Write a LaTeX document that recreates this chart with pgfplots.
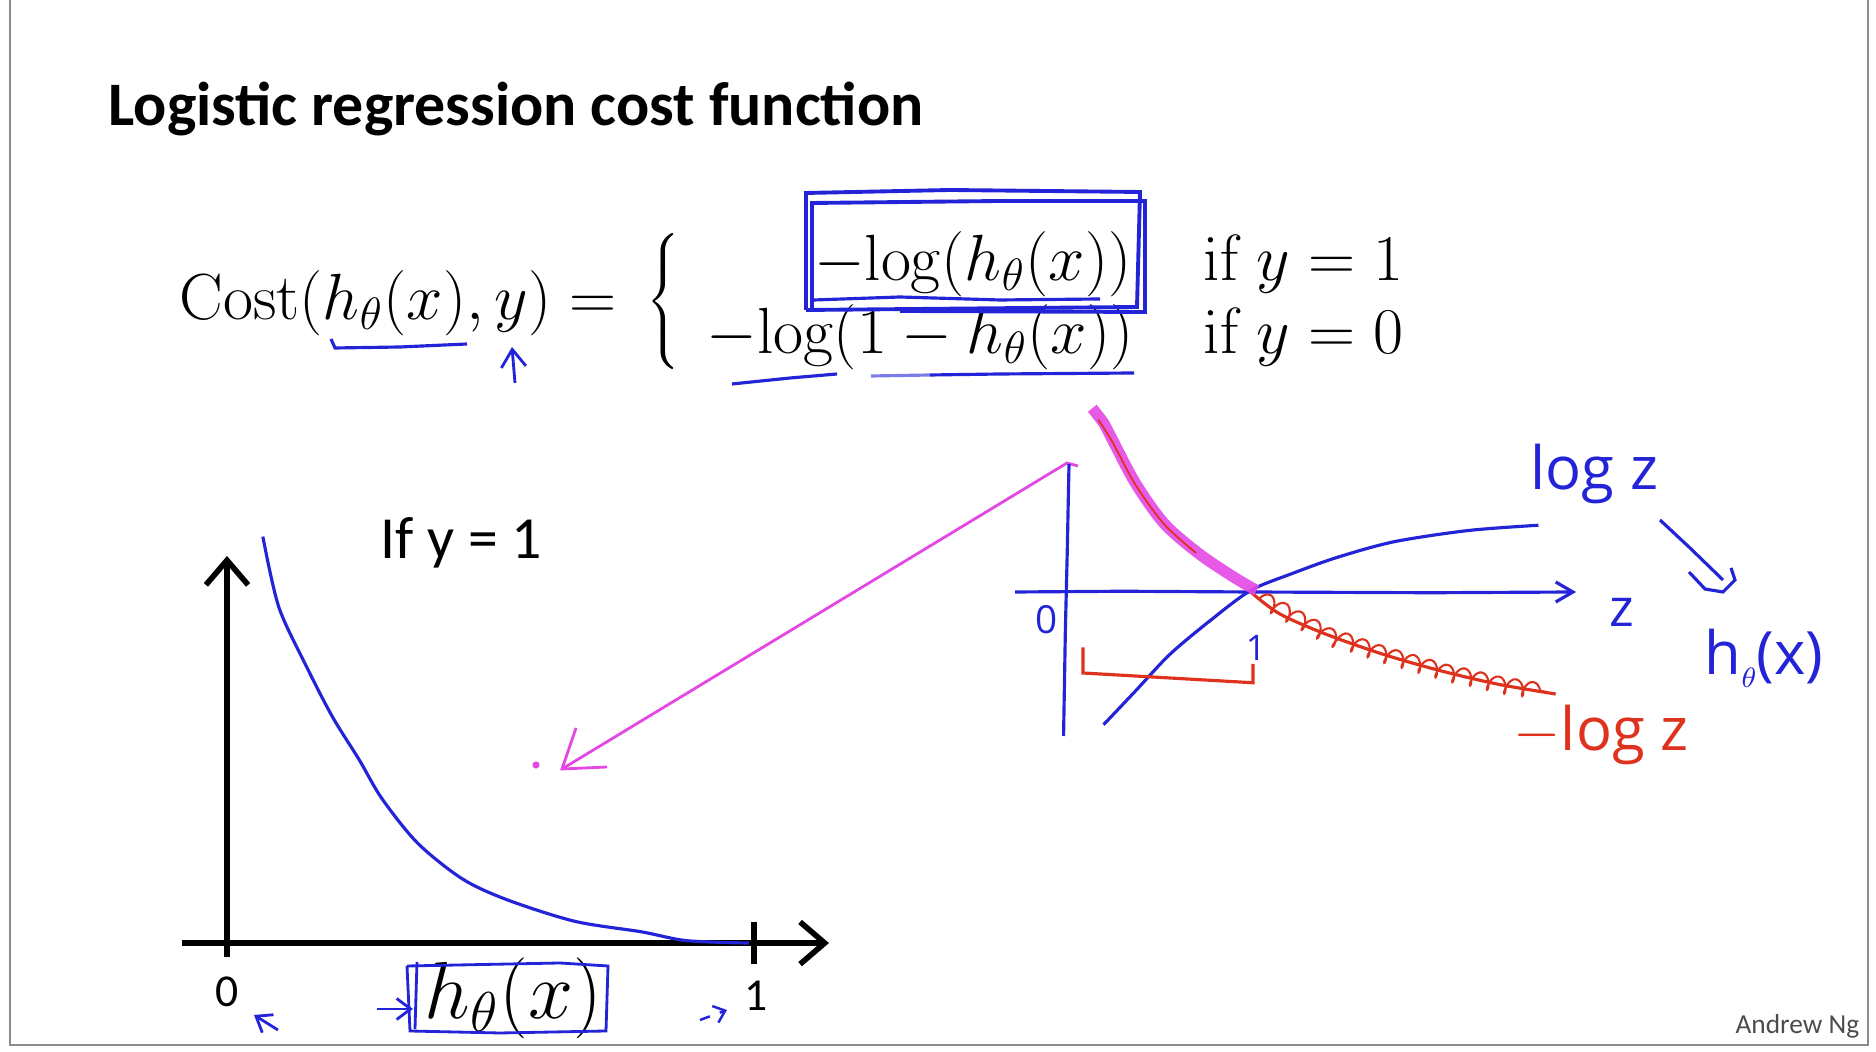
\documentclass[border=0pt]{standalone}
\usepackage[no-math]{fontspec}
\setmainfont{Carlito}
\newfontfamily\hand{Open Sans}
\usepackage{pgfplots}
\pgfplotsset{compat=1.18}
\usetikzlibrary{arrows.meta,decorations.pathmorphing}
\definecolor{hblue}{RGB}{35,35,215}
\definecolor{hred}{RGB}{222,50,30}
\definecolor{hpink}{RGB}{228,72,228}
\definecolor{bordergray}{RGB}{140,140,140}
\begin{document}
\begin{tikzpicture}[every node/.style={inner sep=0pt},fml/.style={font=\fontsize{17.28}{21}\selectfont,scale=1.075}]
\path[use as bounding box] (0,0) rectangle (18.76cm,10.52cm);
% ---------------- canvas (pixel coordinates, y downwards) ----------------
\begin{axis}[at={(0,0)},anchor=south west,scale only axis,width=18.76cm,height=10.52cm,
  xmin=0,xmax=1876,ymin=0,ymax=1052,y dir=reverse,hide axis,clip=false]
% slide border
\addplot[bordergray,line width=0.8pt] coordinates {(10,0)(10,1045)(1868,1045)(1868,0)};
% title
\node[anchor=base west,font=\bfseries\fontsize{17.6}{20}\selectfont] at (axis cs:108,126) {Logistic regression cost function};
% formula
\node[anchor=base west,fml] at (axis cs:179,320) {$\mathrm{Cost}(h_\theta(x),y) =$};
\node[fml] at (axis cs:666,304) {$\left\{\rule[-15pt]{0pt}{30pt}\right.$};
\node[anchor=base east,fml] at (axis cs:1132,281) {$-\mathrm{log}(h_\theta(x))$};
\node[anchor=base east,fml] at (axis cs:1134,354) {$-\mathrm{log}(1-h_\theta(x))$};
\node[anchor=base west,fml] at (axis cs:1203,281) {$\mathrm{if}\ y=1$};
\node[anchor=base west,fml] at (axis cs:1203,354) {$\mathrm{if}\ y=0$};
% blue pen on the formula
\addplot[hblue,line width=1.1pt] coordinates {(806,310)(806,193)(950,190)(1140,192)(1137,307)(806,310)};
\addplot[hblue,line width=1.1pt] coordinates {(812,312)(812,203)(1000,201)(1145,201)(1145,312)(900,311)};
\addplot[hblue,line width=0.9pt] coordinates {(814,300)(900,297)(1000,300)(1100,299)};
\addplot[hblue,line width=0.9pt] coordinates {(331,339)(335,348)(400,347)(467,344)};
\addplot[hblue,line width=0.8pt,-{Straight Barb[length=5pt,width=7pt]}] coordinates {(515,383)(512,347)};
\addplot[hblue,line width=0.9pt] coordinates {(732,384)(790,378)(837,374)};
\addplot[hblue!60,line width=0.9pt] coordinates {(871,376)(930,375)};
\addplot[hblue,line width=0.9pt] coordinates {(930,375)(1000,374)(1134,373)};
% left plot labels
\node[font=\fontsize{17}{20}\selectfont,anchor=base west] at (axis cs:380,559) {If y = 1};
\node[font=\fontsize{13}{15}\selectfont] at (axis cs:227,992) {0};
\node[font=\fontsize{13}{15}\selectfont] at (axis cs:756,996) {1};
\node[anchor=base west,font=\fontsize{20.74}{25}\selectfont,scale=1.11] at (axis cs:424,1019) {$h_\theta(x)$};
\addplot[hblue,line width=0.8pt] coordinates {(407,966)(560,963)(608,966)(606,1031)(500,1033)(410,1031)(407,966)};
\addplot[hblue,line width=0.8pt] coordinates {(417,962)(415,1029)};
\addplot[hblue,line width=0.8pt,-{Straight Barb[length=4pt,width=6pt]}] coordinates {(377,1009)(413,1009)};
\addplot[hblue,line width=0.8pt,-{Straight Barb[length=4pt,width=6pt]}] coordinates {(278,1030)(254,1015)};
\addplot[hblue,line width=0.7pt,dashed,-{Straight Barb[length=3pt,width=5pt]}] coordinates {(700,1020)(727,1010)};
% pink arrow
\addplot[hpink,line width=0.8pt] coordinates {(1078,466)(1067,463)(562,769)};
\addplot[hpink,line width=0.8pt] coordinates {(576,728)(562,769)(607,767)};
\addplot[hpink,only marks,mark=*,mark size=0.8pt] coordinates {(536,765)};
% handwritten labels on the right
\node[font=\hand\fontsize{11}{13}\selectfont,text=hblue] at (axis cs:1047,620) {0};
\node[font=\hand\fontsize{10}{12}\selectfont,text=hblue] at (axis cs:1256,648) {1};
\node[anchor=base west,font=\hand\fontsize{17}{20}\selectfont,text=hblue] at (axis cs:1530,490) {log z};
\node[font=\hand\fontsize{15}{18}\selectfont,text=hblue] at (axis cs:1622,612) {z};
\node[font=\hand\fontsize{17}{20}\selectfont,text=hblue] at (axis cs:1764,658) {h\raisebox{-0.4ex}{\footnotesize$\theta$}(x)};
\node[anchor=base west,font=\hand\fontsize{17}{20}\selectfont,text=hred] at (axis cs:1513,751) {$-$log z};
\addplot[hblue,line width=0.9pt] coordinates {(1660,520)(1690,548)(1723,580)};
\addplot[hblue,line width=0.9pt] coordinates {(1689,572)(1705,589)(1723,592)(1735,580)(1731,568)};
% footer
\node[anchor=base east,font=\fontsize{7.8}{9}\selectfont,text=black!70] at (axis cs:1860,1034) {Andrew Ng};
\end{axis}
% ---------------- left plot: Cost vs h_theta(x) for y = 1 ----------------
\begin{axis}[at={(1.82cm,0.95cm)},anchor=south west,scale only axis,width=6.47cm,height=4.01cm,
  xmin=-0.0854,xmax=1.1423,ymin=-0.0936,ymax=2.6,enlargelimits=false,clip=false,
  axis lines=middle,
  axis line style={black,line width=1.6pt,-{Straight Barb[length=7pt,width=12pt]}},
  xtick={1},ytick=\empty,xticklabels={},
  major tick length=0.42cm,tick align=center,
  tick style={black,line width=1.5pt}]
\addplot[hblue,line width=0.9pt,smooth] coordinates {
(0.068,2.73)(0.098,2.26)(0.149,1.87)(0.2,1.52)(0.251,1.23)(0.294,0.97)(0.362,0.67)
(0.447,0.43)(0.532,0.29)(0.66,0.146)(0.787,0.075)(0.872,0.016)(0.99,0)};
\end{axis}
% ---------------- right sketch: log z and -log z ----------------
\begin{axis}[at={(10cm,3.12cm)},anchor=south west,scale only axis,width=6cm,height=3.4cm,
  xmin=-0.38,xmax=2.924,ymin=-1.973,ymax=2.56,hide axis,clip=false]
\addplot[hblue,line width=0.9pt] coordinates {(0,1.707)(-0.01,0.5)(-0.02,-0.5)(-0.03,-1.92)};
\addplot[hblue,line width=0.9pt] coordinates {(-0.297,0)(0.3,0.01)(1,0)(2,-0.01)(2.775,0)};
\addplot[hblue,line width=0.9pt] coordinates {(2.68,0.133)(2.775,0)(2.68,-0.133)};
\addplot[hblue,line width=0.9pt,smooth] coordinates {(0.19,-1.77)(0.366,-1.32)(0.556,-0.83)(0.778,-0.38)(1.0,0.02)(1.222,0.24)(1.475,0.46)(1.79,0.67)(2.2,0.82)(2.585,0.89)};
\addplot[hred,line width=0.9pt,smooth] coordinates {(1.0,0)(1.159,-0.29)(1.412,-0.56)(1.729,-0.83)(2.046,-1.05)(2.363,-1.23)(2.68,-1.36)};
\addplot[hred,line width=0.6pt,decorate,decoration={coil,aspect=0.5,segment length=5pt,amplitude=2.2pt}] coordinates {(1.05,-0.08)(1.412,-0.56)(1.729,-0.83)(2.046,-1.05)(2.363,-1.23)(2.62,-1.33)};
\addplot[hred,line width=0.9pt] coordinates {(0.077,-0.74)(0.077,-1.08)(1.013,-1.21)(1.013,-0.96)};
\addplot[hpink,line width=3.2pt,opacity=0.9,smooth] coordinates {(0.128,2.45)(0.191,2.25)(0.239,2.03)(0.366,1.45)(0.525,0.91)(0.716,0.51)(0.906,0.20)(1.033,0.02)};
\addplot[hred,line width=0.5pt,smooth] coordinates {(0.16,2.3)(0.239,2.0)(0.366,1.43)(0.525,0.9)(0.7,0.52)};
\end{axis}
\end{tikzpicture}
\end{document}
